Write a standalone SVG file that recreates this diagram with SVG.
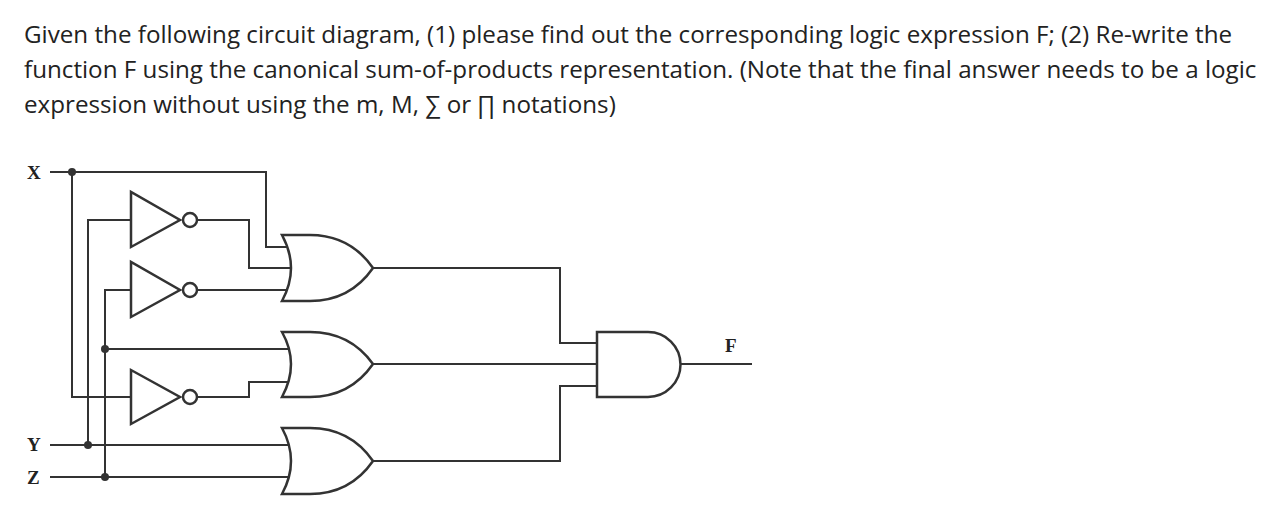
<svg xmlns="http://www.w3.org/2000/svg" width="1282" height="514" viewBox="0 0 1282 514">
<style>
.t{font-family:"Open Sans",sans-serif;font-size:24.2px;fill:#222}
.l{font-family:"Liberation Serif",serif;font-size:19px;font-weight:bold;fill:#222}
.w{fill:none;stroke:#333;stroke-width:2}
.g{fill:#fff;stroke:#333;stroke-width:2.5}
.d{fill:#333}
</style>
<rect width="1282" height="514" fill="#fff"/>
<text class="t" x="24" y="43">Given the following circuit diagram, (1) please find out the corresponding logic expression F; (2) Re-write the</text>
<text class="t" x="24" y="78">function F using the canonical sum-of-products representation. (Note that the final answer needs to be a logic</text>
<text class="t" x="24" y="113">expression without using the m, M, ∑ or ∏ notations)</text>
<text class="l" x="27" y="179">X</text>
<text class="l" x="27" y="451">Y</text>
<text class="l" x="27" y="484">Z</text>
<text class="l" x="725" y="352">F</text>
<g id="connectors">
<path class="w" d="M50 172H266V247H290"/>
<path class="w" d="M72 172V397H131"/>
<path class="w" d="M50 445H292"/>
<path class="w" d="M88 445V220H131"/>
<path class="w" d="M50 477H292"/>
<path class="w" d="M105 477V290H131"/>
<path class="w" d="M105 349H292"/>
<path class="w" d="M197 220H249V268H292"/>
<path class="w" d="M197 290H290"/>
<path class="w" d="M197 397H249V382H292"/>
<path class="w" d="M373 268H560V343H597"/>
<path class="w" d="M373 364H597"/>
<path class="w" d="M373 461H560V386H597"/>
<path class="w" d="M679 364H752"/>
<circle class="d" cx="72" cy="172" r="4"/>
<circle class="d" cx="88" cy="445" r="4"/>
<circle class="d" cx="105" cy="477" r="4"/>
<circle class="d" cx="105" cy="349" r="4"/>
</g>
<g id="not1"><path class="g" d="M131 192V247L180 220Z"/><circle class="g" cx="190" cy="220" r="7"/></g>
<g id="not2"><path class="g" d="M131 262V317L180 290Z"/><circle class="g" cx="190" cy="290" r="7"/></g>
<g id="not3"><path class="g" d="M131 370V424L180 397Z"/><circle class="g" cx="190" cy="397" r="7"/></g>
<g id="or1"><path class="g" d="M282 235Q300 268 282 301H310Q350 301 373 268Q350 235 310 235Z"/></g>
<g id="or2"><path class="g" d="M282 332Q300 364 282 397H310Q350 397 373 364Q350 332 310 332Z"/></g>
<g id="or3"><path class="g" d="M282 428Q300 461 282 494H310Q350 494 373 461Q350 428 310 428Z"/></g>
<g id="and"><path class="g" d="M597 332H648A32.5 32.5 0 0 1 648 397H597Z"/></g>
</svg>
